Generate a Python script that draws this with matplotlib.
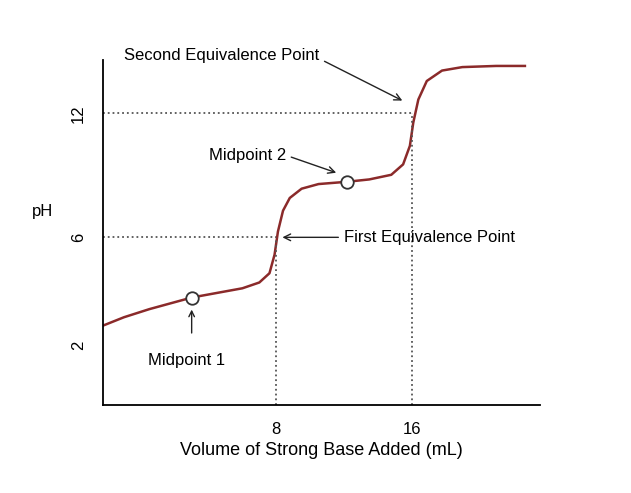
import matplotlib.pyplot as plt

plt.rcParams['font.family'] = ['Liberation Sans', 'DejaVu Sans']

# titration curve (mL, pH on the drawn scale)
vol = [-2.2, -1.0, 0.5, 2.0, 3.0, 4.5, 6.0, 7.0, 7.6, 7.9, 8.1, 8.4, 8.8, 9.5, 10.5, 12.2,
       13.5, 14.8, 15.5, 15.9, 16.1, 16.4, 16.9, 17.8, 19.0, 21.0, 22.7]
ph = [2.85, 3.2, 3.55, 3.85, 4.05, 4.25, 4.45, 4.7, 5.1, 5.9, 6.9, 7.8, 8.35, 8.75, 8.95, 9.05,
      9.15, 9.35, 9.8, 10.6, 11.6, 12.6, 13.4, 13.85, 14.0, 14.05, 14.05]
mid_x = [3.0, 12.2]
mid_y = [4.05, 9.05]
eq_x = [8, 16]
eq_y = [6.65, 12]
ytick_pos = [2, 6.65, 12]
ytick_lab = ['2', '6', '12']

fig = plt.figure(figsize=(6.31, 4.93), dpi=100)
ax = fig.add_axes([0.163, 0.178, 0.693, 0.70])
ax.set_xlim(-2.25, 23.6)
ax.set_ylim(-0.6, 14.3)
for s in ['top', 'right']:
    ax.spines[s].set_visible(False)
ax.spines['left'].set_linewidth(1.3)
ax.spines['bottom'].set_linewidth(1.3)

ax.plot(vol, ph, color='#8b2a2a', lw=1.8)
ax.plot(mid_x, mid_y, 'o', mfc='white', mec='#333333', ms=9, mew=1.3)

# dotted guides
for x, y in zip(eq_x, eq_y):
    ax.plot([-2.25, x], [y, y], ':', color='#555555', lw=1.3)
    ax.plot([x, x], [-0.6, y], ':', color='#555555', lw=1.3)

ax.set_xticks(eq_x)
ax.set_yticks(ytick_pos, ytick_lab)
ax.tick_params(length=0, labelsize=12, pad=12)
for t in ax.get_yticklabels():
    t.set_rotation(90)
    t.set_va('center')
ax.set_xlabel('Volume of Strong Base Added (mL)', fontsize=13)
fig.text(0.067, 0.57, 'pH', fontsize=12, ha='center', va='center')

arrow = dict(arrowstyle='->', color='#222222', lw=1)
ax.annotate('Second Equivalence Point', xy=(15.6, 12.5), xytext=(-1.0, 14.3),
            fontsize=12, arrowprops=dict(arrow, relpos=(1, 0.3)))
ax.annotate('Midpoint 2', xy=(11.7, 9.4), xytext=(4.0, 10.0),
            fontsize=12, arrowprops=dict(arrow, relpos=(1, 0.5)))
ax.annotate('First Equivalence Point', xy=(8.2, 6.65), xytext=(12.0, 6.65),
            fontsize=12, va='center', arrowprops=arrow)
ax.annotate('', xy=(3.0, 3.65), xytext=(3.0, 2.4), arrowprops=arrow)
ax.text(2.7, 1.35, 'Midpoint 1', fontsize=12, ha='center', va='center')

fig.savefig('out.png', dpi=100)
